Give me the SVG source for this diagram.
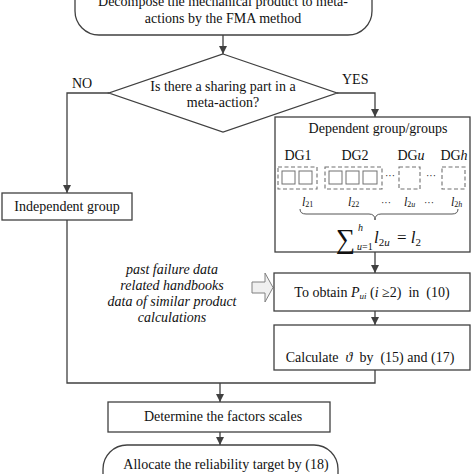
<svg xmlns="http://www.w3.org/2000/svg" width="474" height="474" viewBox="0 0 474 474">
<defs>
<style>
.box{fill:#fff;stroke:#404040;stroke-width:1.3}
.ln{fill:none;stroke:#404040;stroke-width:1.3}
.arr{fill:none;stroke:#404040;stroke-width:1.3;marker-end:url(#ah)}
.dash{fill:none;stroke:#707070;stroke-width:1.1;stroke-dasharray:4 2.5}
.sq{fill:none;stroke:#707070;stroke-width:1}
text{font-family:"Liberation Serif","Times New Roman",serif;font-size:14px;fill:#111}
.c{text-anchor:middle}
.it{font-style:italic}
</style>
<marker id="ah" markerWidth="8" markerHeight="8" viewBox="0 0 8 8" refX="8" refY="4" orient="auto" markerUnits="userSpaceOnUse">
<path d="M0,0 L8,4 L0,8 Z" fill="#404040"/>
</marker>
</defs>
<rect width="474" height="474" fill="#fff"/>

<g id="connectors">
<path class="arr" d="M223,35 V54"/>
<path class="arr" d="M109,93 H67 V193"/>
<path class="arr" d="M337,93 H375 V117"/>
<path class="arr" d="M375,252 V273"/>
<path class="arr" d="M375,311 V325"/>
<path class="ln" d="M375,370 V383 H67 V220"/>
<path class="arr" d="M220,383 V402"/>
<path class="arr" d="M220,432 V445"/>
</g>

<g id="start">
<rect class="box" x="75" y="-30" width="297" height="65" rx="24"/>
<text class="c" x="223" y="6">Decompose the mechanical product to meta-</text>
<text class="c" x="223" y="23">actions by the FMA method</text>
</g>

<g id="decision">
<polygon class="box" points="223,54 337,93 223,132 109,93"/>
<text class="c" x="223" y="91">Is there a sharing part in a</text>
<text class="c" x="223" y="107">meta-action?</text>
</g>
<text x="72" y="88">NO</text>
<text x="342" y="84">YES</text>

<g id="independent">
<rect class="box" x="2" y="193" width="130" height="27"/>
<text class="c" x="67" y="211">Independent group</text>
</g>

<g id="dependent">
<rect class="box" x="275" y="117" width="195" height="135"/>
<text class="c" x="378" y="133">Dependent group/groups</text>
<text class="c" x="298" y="160">DG1</text>
<text class="c" x="355" y="160">DG2</text>
<text class="c" x="411" y="160">DG<tspan class="it">u</tspan></text>
<text class="c" x="454" y="160">DG<tspan class="it">h</tspan></text>
<rect class="dash" x="278" y="167" width="39" height="22"/>
<rect class="sq" x="282" y="171" width="13" height="13"/>
<rect class="sq" x="299" y="171" width="13" height="13"/>
<rect class="dash" x="325" y="167" width="57" height="22"/>
<rect class="sq" x="329" y="171" width="13" height="13"/>
<rect class="sq" x="346" y="171" width="13" height="13"/>
<rect class="sq" x="363" y="171" width="14" height="13"/>
<text class="c" x="390" y="179" style="font-size:10px">···</text>
<rect class="dash" x="399" y="167" width="21" height="22"/>
<text class="c" x="431" y="179" style="font-size:10px">···</text>
<rect class="dash" x="442" y="167" width="23" height="22"/>
<text x="302" y="206" class="it" style="font-size:12px">l<tspan style="font-size:8px;font-style:normal" dy="1">21</tspan></text>
<text x="348" y="206" class="it" style="font-size:12px">l<tspan style="font-size:8px;font-style:normal" dy="1">22</tspan></text>
<text class="c" x="386" y="206" style="font-size:10px">···</text>
<text x="404" y="206" class="it" style="font-size:12px">l<tspan style="font-size:8px" dy="1"><tspan style="font-style:normal">2</tspan>u</tspan></text>
<text class="c" x="429" y="206" style="font-size:10px">···</text>
<text x="451" y="206" class="it" style="font-size:12px">l<tspan style="font-size:8px" dy="1"><tspan style="font-style:normal">2</tspan>h</tspan></text>
<path class="sq" d="M300,209 Q300,214 306,214 H369 Q375,214 375,220 Q375,214 381,214 H452 Q458,214 458,209" style="stroke:#555"/>
<text x="336" y="248" style="font-size:27px">∑</text>
<text x="358" y="231" class="it" style="font-size:10px">h</text>
<text x="357" y="250" style="font-size:10px"><tspan class="it">u</tspan>=1</text>
<text x="374" y="243" class="it" style="font-size:17px">l<tspan style="font-size:11px" dy="3"><tspan style="font-style:normal">2</tspan>u</tspan></text>
<text x="397" y="243" style="font-size:17px">= <tspan class="it">l</tspan><tspan style="font-size:11px" dy="3">2</tspan></text>
</g>

<g id="sources">
<text class="c it" x="172" y="274">past failure data</text>
<text class="c it" x="172" y="290">related handbooks</text>
<text class="c it" x="172" y="306">data of similar product</text>
<text class="c it" x="172" y="322">calculations</text>
<path d="M252,282 H265 V273 L273,287.5 L265,302 V293 H252 Z" fill="#f0f0f0" stroke="#808080" stroke-width="1"/>
</g>

<g id="obtain">
<rect class="box" x="274" y="273" width="196" height="38"/>
<text class="c" x="372" y="297" xml:space="preserve">To obtain <tspan class="it">P</tspan><tspan class="it" style="font-size:9px" dy="2">ui</tspan><tspan dy="-2"> (</tspan><tspan class="it">i</tspan> ≥2)  in  (10)</text>
</g>

<g id="calculate">
<rect class="box" x="274" y="325" width="196" height="45"/>
<text class="c" x="370" y="362" xml:space="preserve">Calculate  <tspan class="it">ϑ</tspan>  by  (15) and (17)</text>
</g>

<g id="determine">
<rect class="box" x="108" y="402" width="222" height="30"/>
<text class="c" x="223" y="421">Determine the factors scales</text>
</g>

<g id="allocate">
<rect class="box" x="103" y="445" width="235" height="60" rx="24"/>
<text class="c" x="226" y="469">Allocate the reliability target by (18)</text>
</g>
</svg>
